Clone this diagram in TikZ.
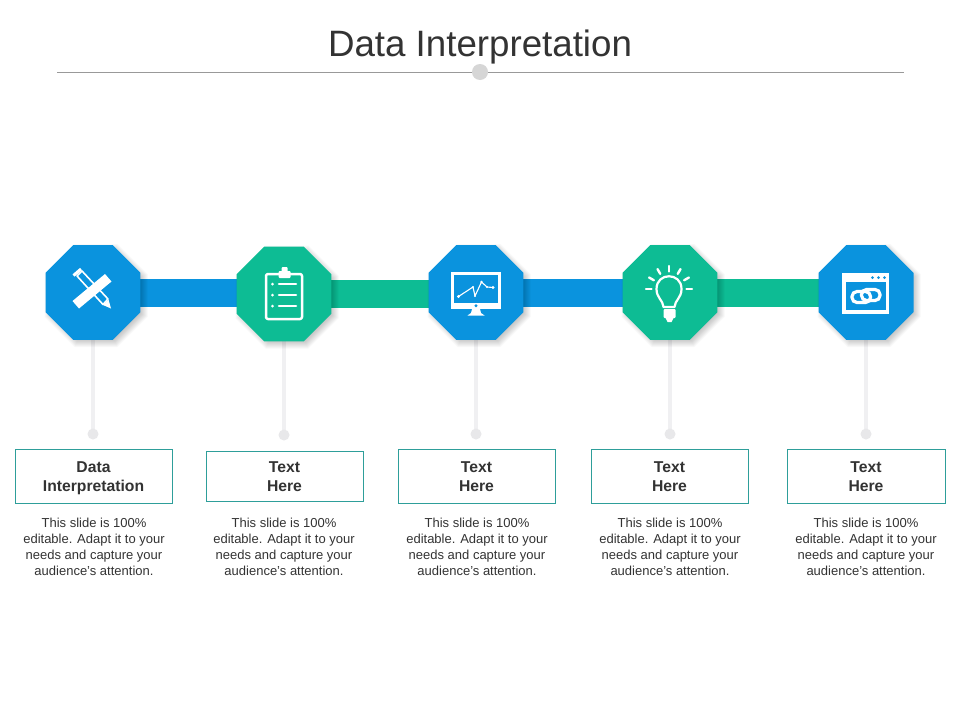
\documentclass[tikz,border=0pt]{standalone}
\usepackage{fontspec}
\setmainfont{Liberation Sans}
\usetikzlibrary{shapes.geometric}
\definecolor{bl}{HTML}{0A93DE}
\definecolor{gr}{HTML}{0DBC94}
\definecolor{ink}{HTML}{333333}
\definecolor{boxc}{HTML}{2E9E9A}
\definecolor{stemc}{HTML}{F0F0F2}
\definecolor{dotc}{HTML}{E8E8EA}
\pgfdeclarelayer{bars}
\pgfdeclarelayer{shades}
\pgfsetlayers{bars,shades,main}
\newcommand{\hs}{\rule{0pt}{15.5pt}}
\newcommand{\hd}{\rule[-3.3pt]{0pt}{3.3pt}}
\tikzset{
  octa/.style={regular polygon,regular polygon sides=8,minimum size=102.8pt,inner sep=0pt,fill=#1},
  barline/.style={line width=28pt,draw=#1},
  stem/.style={line width=4pt,draw=stemc},
  stemdot/.style={circle,fill=dotc,minimum size=11pt,inner sep=0pt},
  headbox/.style={draw=boxc,line width=1pt,minimum width=157pt,inner sep=0pt,align=center,text=ink,
    font=\fontsize{15.7}{19}\selectfont\bfseries},
  bodytext/.style={align=center,text=ink,inner sep=0pt,font=\fontsize{13}{16}\selectfont},
  iconw/.style={draw=white,line width=2.5pt,line cap=round,line join=round},
}
\newcommand{\octshade}[2]{%
  \begin{pgfonlayer}{shades}
  \foreach \g in {4,3,2,1,0,-1,-2,-3,-4,-5}{
    \fill[black,opacity=.028,shift={(#1+3,#2+3)}]
      (-19.7-.41*\g,-47.5-\g)--(19.7+.41*\g,-47.5-\g)--(47.5+\g,-19.7-.41*\g)--(47.5+\g,19.7+.41*\g)
      --(19.7+.41*\g,47.5+\g)--(-19.7-.41*\g,47.5+\g)--(-47.5-\g,19.7+.41*\g)--(-47.5-\g,-19.7-.41*\g)--cycle;
  }
  \end{pgfonlayer}}
\begin{document}
\begin{tikzpicture}[x=1pt,y=-1pt]
\useasboundingbox (0,0) rectangle (960,720);
\begin{pgfonlayer}{bars}
\fill[white] (0,0) rectangle (960,720);
\end{pgfonlayer}
% title
\node[text=ink,inner sep=0pt,font=\fontsize{36.7}{40}\selectfont] (title) at (480,47.5) {Data Interpretation};
\coordinate (ruleL) at (57,72.5);
\coordinate (ruleR) at (904,72.5);
\draw[draw=black!40,line width=.9pt] (ruleL) -- (ruleR);
\node[circle,fill=black!16,minimum size=16pt,inner sep=0pt] (ruledot) at (480,72) {};
% octagons
\node[octa=bl] (o1) at (93,292.5) {};
\node[octa=gr] (o2) at (284,294) {};
\node[octa=bl] (o3) at (476,292.5) {};
\node[octa=gr] (o4) at (670,292.5) {};
\node[octa=bl] (o5) at (866,292.5) {};
\octshade{93}{292.5}\octshade{284}{294}\octshade{476}{292.5}\octshade{670}{292.5}\octshade{866}{292.5}
% dots
\node[stemdot] (d1) at (93,434) {};
\node[stemdot] (d2) at (284,435) {};
\node[stemdot] (d3) at (476,434) {};
\node[stemdot] (d4) at (670,434) {};
\node[stemdot] (d5) at (866,434) {};
\begin{pgfonlayer}{bars}
\draw[barline=bl] (o1.center) -- (o1.center -| o2.center);
\draw[barline=gr] (o2.center) -- (o2.center -| o3.center);
\draw[barline=bl] (o3.center) -- (o4.center);
\draw[barline=gr] (o4.center) -- (o5.center);
\foreach \i in {1,...,5}{\draw[stem] (o\i.center) -- (d\i.center);}
\end{pgfonlayer}
% heading boxes
\node[headbox,minimum height=54pt] (h1) at (93.5,476) {\hs Data\\Interpretation};
\node[headbox,minimum height=50pt] (h2) at (284.5,476) {\hs Text\\Here\hd};
\node[headbox,minimum height=54pt] (h3) at (476.5,476) {\hs Text\\Here\hd};
\node[headbox,minimum height=54pt] (h4) at (669.5,476) {\hs Text\\Here\hd};
\node[headbox,minimum width=158pt,minimum height=54pt] (h5) at (866,476) {\hs Text\\Here\hd};
% body text
\foreach \n/\x in {1/94,2/284,3/477,4/670,5/866}{
  \node[bodytext] (t\n) at (\x,546.5) {This slide is 100\%\\editable. Adapt it to your\\needs and capture your\\audience's attention.};
}
% icon 1: ruler and pencil
\draw[white,line width=1.6pt,line join=round] (77,276)--(82,271)--(108,299)--(103,304.5)--cycle;
\fill[white] (103,305)--(108.5,299.5)--(111,308.5)--cycle;
\draw[white,line width=3pt] (73.5,275.5)--(81,269);
\fill[white] (72.5,301)--(105,274)--(111.5,281.5)--(79,308.5)--cycle;
% icon 2: clipboard
\draw[iconw,rounded corners=2pt] (266,274)rectangle(302,319);
\fill[white,rounded corners=1pt] (278.5,271)rectangle(290.5,278);
\fill[white,rounded corners=1pt] (281.5,267)rectangle(287.5,272);
\foreach \y in {284,295,306}{
  \fill[white] (272.5,\y) circle (1.5);
  \draw[white,line width=2.6pt,line cap=round] (279,\y)--(296,\y);
}
% icon 3: monitor
\fill[white] (451,272)rectangle(501,309);
\fill[bl] (454,275)rectangle(498,303);
\fill[bl] (476,305.8) circle (1.6);
\fill[white] (472,309)--(480,309)--(481,313)--(484.5,315.5)--(467.5,315.5)--(471,313)--cycle;
\draw[white,line width=1.1pt,line join=round] (458.5,296.5)--(473,287)--(475,296)--(481.5,282)--(487,287)--(493,287.5);
\fill[white] (458.5,296.5) circle (1.6) (473,287) circle (1.2) (475,296) circle (1.2) (481.5,282) circle (1.4) (487,287) circle (1.2) (493,287.5) circle (1.6);
% icon 4: bulb
\foreach \a in {0,30,60,90,120,150,180}{
  \draw[white,line width=2.4pt,line cap=round] (669+17.5*cos \a,289-17.5*sin \a)--(669+23*cos \a,289-23*sin \a);
}
\draw[white,line width=2.2pt,line join=round] (663.5,307) .. controls (663,300) and (656.5,298) .. (656.5,289)
  .. controls (656.5,272) and (681.5,272) .. (681.5,289)
  .. controls (681.5,298) and (675,300) .. (674.5,307) -- cycle;
\fill[white,rounded corners=1pt] (663.5,309)rectangle(675.5,318);
\fill[white] (665.5,318) -- (673.5,318) -- (671.5,322) -- (667.5,322) -- cycle;
% icon 5: browser window
\fill[white] (842,273)rectangle(889,314);
\fill[bl] (846,282)rectangle(886,310);
\foreach \x in {873,879,885}{\fill[bl] (\x-.5,277.7) circle (1.5);}
\draw[white,line width=3.2pt,rounded corners=5pt] (852,291.5)rectangle(870.5,302.5);
\draw[white,line width=3.2pt,rounded corners=5pt] (861.5,289.5)rectangle(880,300.5);
\end{tikzpicture}
\end{document}
